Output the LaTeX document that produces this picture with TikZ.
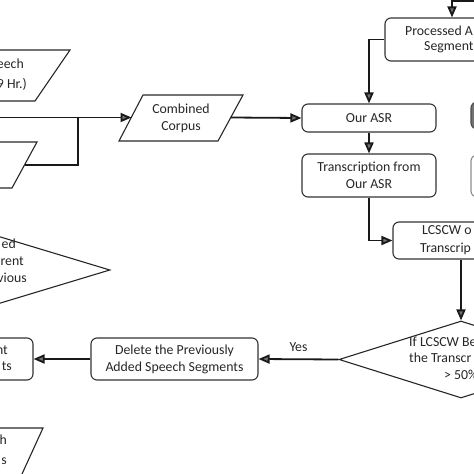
\documentclass[tikz,border=0pt]{standalone}
\usepackage{fontspec}
\setmainfont{Carlito}
\usetikzlibrary{arrows.meta,shapes.geometric}
\begin{document}
\begin{tikzpicture}[x=1pt,y=-1pt,
  every node/.style={font=\fontsize{13.8}{17}\selectfont, text=black!85},
  box/.style={draw=black!80, line width=1.1pt, rounded corners=6pt, minimum width=134pt, align=center, inner sep=0pt},
  frag/.style={inner sep=0pt},
  io/.style={draw=black!85, line width=1.1pt},
  dia/.style={diamond, draw=black!85, line width=1.1pt, minimum width=244pt, inner sep=0pt},
  flow/.style={line width=1.8pt, draw=black!90, -{Triangle[length=11pt,width=9pt,fill=black!55]}},
  link/.style={line width=1.8pt, draw=black!90},
]
\useasboundingbox (0,0) rectangle (474,474);
\clip (0,0) rectangle (474,474);

% ---- rounded process boxes
\node[box, minimum height=43pt] (proc) at (452,39.5) {};
\node[frag, anchor=mid west] (procA) at (405,33) {Processed A};
\node[frag, anchor=mid west] (procB) at (424,48) {Segment};
\node[box, minimum height=28pt] (asr) at (369,118) {Our ASR};
\node[box, minimum height=43pt] (trans) at (369,175.5) {Transcription from\\Our ASR};
\node[box, minimum width=136pt, minimum height=37pt] (lcscw) at (461,240.5) {};
\node[frag, anchor=mid west] (lcA) at (422,232) {LCSCW o};
\node[frag, anchor=mid west] (lcB) at (420,250) {Transcrip};
\node[box, minimum width=167pt, minimum height=42pt] (del) at (174.5,359) {Delete the Previously\\Added Speech Segments};
\node[box, minimum height=42pt] (cur) at (-34,359) {};
\node[frag, anchor=mid east] (curA) at (8,352) {nt};
\node[frag, anchor=mid east] (curB) at (12,368) {ts};

% ---- right column (cut off)
\node[box, fill=black!55, draw=black!70, minimum height=27pt] (g1) at (538,115.5) {};
\node[box, draw=black!45, minimum height=42pt] (g2) at (538,176) {};

% ---- decisions
\node[dia, minimum height=77pt] (dec) at (461,359.5) {};
\node[frag, anchor=mid west] (decA) at (409,344) {If LCSCW Be};
\node[frag, anchor=mid west] (decB) at (409,360) {the Transcr};
\node[frag, anchor=mid west] (decC) at (444,377) {> 50\%};
\node[dia, minimum height=74pt] (chk) at (-12,270) {};
\node[frag, anchor=mid east] (chkA) at (16,246) {ed};
\node[frag, anchor=mid east] (chkB) at (24,263) {rent};
\node[frag, anchor=mid east] (chkC) at (27,280) {vious};

% ---- data (parallelograms)
\draw[io] (-60,50) -- (70,50) -- (35,101) -- (-60,101);
\node[frag, anchor=mid east] (spA) at (24,66) {eech};
\node[frag, anchor=mid east] (spB) at (27,86) {9 Hr.)};
\draw[io] (-60,142) -- (37,142) -- (12,188) -- (-60,188);
\coordinate (p2R) at (25,165);
\draw[io] (119,141) -- (143,95) -- (243,95) -- (218,141) -- cycle;
\node[align=center, inner sep=0pt] (cc) at (181,118) {Combined\\Corpus};
\coordinate (ccL) at (131.5,117.5);
\coordinate (ccR) at (230.5,117.5);
\draw[io] (-60,428) -- (43,428) -- (14.7,490);
\node[frag, anchor=mid east] (btA) at (7,442) {h};
\node[frag, anchor=mid east] (btB) at (7,462) {s};

% ---- connectors
\coordinate (inL) at (-5,117.5);
\coordinate (j) at (78,117.5);
\coordinate (topR) at (490,1);
\draw[flow] (inL) -- (ccL);
\draw[link] (p2R) -| (j);
\draw[flow] (ccR) -- (asr.west);
\draw[flow] (topR) -| (proc.north);
\draw[flow] (proc.west) -| (asr.north);
\draw[flow] (asr) -- (trans);
\draw[flow] (trans.south) |- (lcscw.west);
\draw[flow] (lcscw.south) -- (dec.north);
\draw[flow] (dec.west) -- (del.east) node[midway, above=3pt] (yes) {Yes};
\draw[flow] (del.west) -- (cur.east);
\end{tikzpicture}
\end{document}
